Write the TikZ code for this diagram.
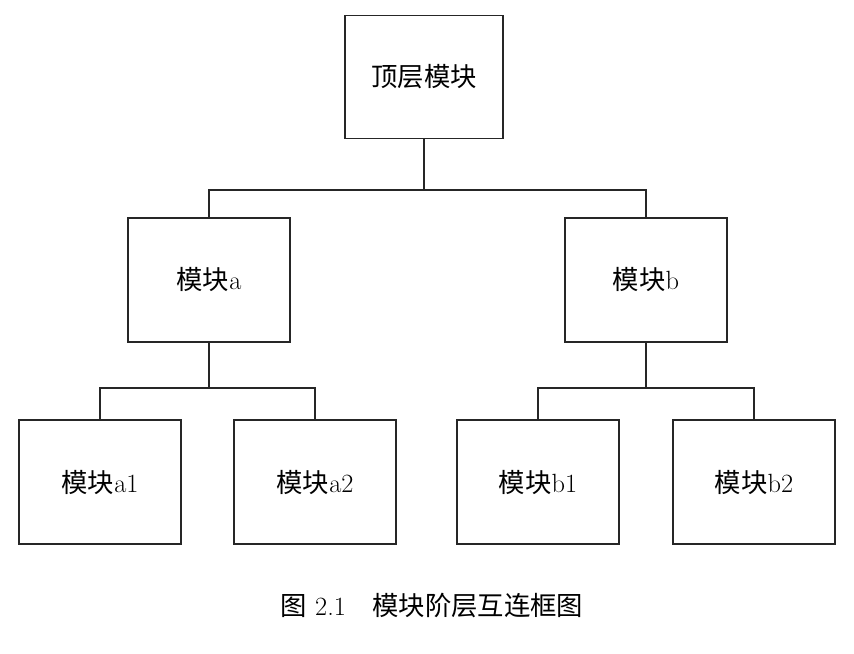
\documentclass[tikz,border=0pt]{standalone}
\usepackage{fontspec}
\newfontfamily\cjk{Noto Sans CJK SC}
\begin{document}
\begin{tikzpicture}[x=0.02cm, y=-0.02cm,
    module/.style={rectangle, draw=black!85, thick, minimum width=3.24cm, minimum height=2.48cm, font=\fontsize{15}{18}\selectfont},
    wire/.style={draw=black!85, thick}
  ]
  \useasboundingbox (0,0) rectangle (854,653);
  \node[module, minimum width=3.16cm, minimum height=2.46cm] (top) at (424,77) {\cjk 顶层模块};
  \node[module] (a) at (209,280) {{\cjk 模块}a};
  \node[module] (b) at (646,280) {{\cjk 模块}b};
  \node[module] (a1) at (100,482) {{\cjk 模块}a1};
  \node[module] (a2) at (315,482) {{\cjk 模块}a2};
  \node[module] (b1) at (538,482) {{\cjk 模块}b1};
  \node[module] (b2) at (754,482) {{\cjk 模块}b2};
  \coordinate (bustop) at (424,190);
  \coordinate (busa) at (209,388);
  \coordinate (busb) at (646,388);
  \draw[wire] (top.south) -- (bustop);
  \draw[wire] (a.north) |- (bustop) -| (b.north);
  \draw[wire] (a.south) -- (busa);
  \draw[wire] (a1.north) |- (busa) -| (a2.north);
  \draw[wire] (b.south) -- (busb);
  \draw[wire] (b1.north) |- (busb) -| (b2.north);
  \node[font=\fontsize{15}{18}\selectfont] (caption) at (432,606) {{\cjk 图}\ 2.1\quad {\cjk 模块阶层互连框图}};
\end{tikzpicture}
\end{document}
